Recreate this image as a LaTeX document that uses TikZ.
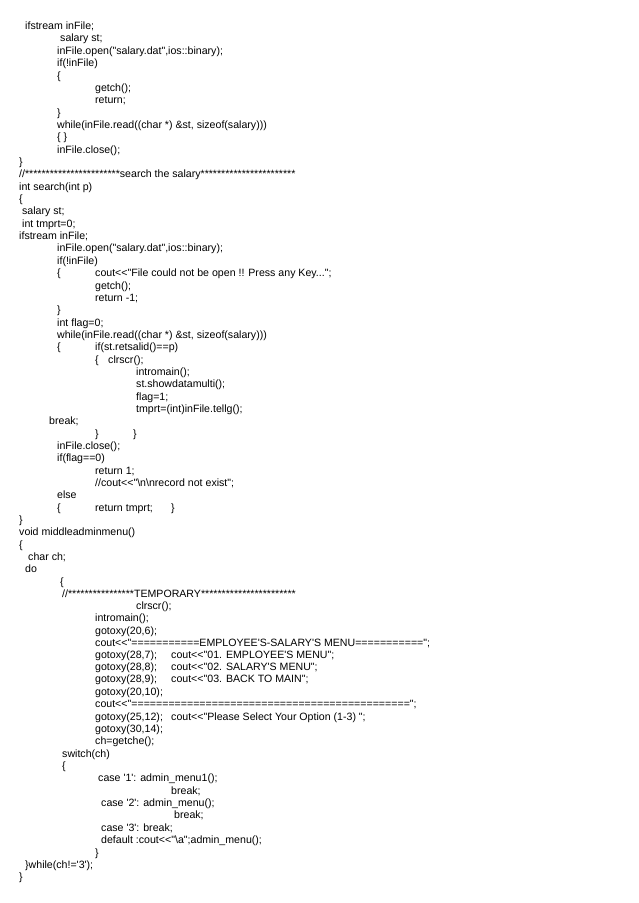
\documentclass[tikz,border=0pt]{standalone}
\usepackage{fontspec}
\newfontfamily\codefont{Liberation Sans}
\begin{document}
\begin{tikzpicture}[x=1pt,y=1pt,
  ln/.style={anchor=base west,inner sep=0pt,font=\codefont\fontsize{10.6}{12}\selectfont}]
\useasboundingbox[fill=white] (0,0) rectangle (638,-903);
\newcommand\LL[4]{\node[ln] (#1) at (#2,{-(#3)-4}) {#4};}
\LL{l1}{25}{25}{ifstream inFile;}
\LL{l2}{60}{37}{salary st;}
\LL{l3}{57}{50}{inFile.open("salary.dat",ios::binary);}
\LL{l4}{57}{62}{if(!inFile)}
\LL{l5}{57}{75}{\{}
\LL{l6}{95}{87}{getch();}
\LL{l7}{95}{99}{return;}
\LL{l8}{57}{112}{\}}
\LL{l9}{57}{124}{while(inFile.read((char *) \&st, sizeof(salary)))}
\LL{l10}{57}{136}{\{ \}}
\LL{l11}{57}{149}{inFile.close();}
\LL{l12}{19}{161}{\}}
\LL{l13}{19}{173}{//***********************search the salary***********************}
\LL{l14}{19}{186}{int search(int p)}
\LL{l15}{19}{198}{\{}
\LL{l16}{22}{210}{salary st;}
\LL{l17}{22}{223}{int tmprt=0;}
\LL{l18}{19}{235}{ifstream inFile;}
\LL{l19}{57}{247}{inFile.open("salary.dat",ios::binary);}
\LL{l20}{57}{260}{if(!inFile)}
\LL{l21}{57}{272}{\{}
\LL{l21b}{95}{272}{cout<{}<"File could not be open !! Press any Key...";}
\LL{l22}{95}{285}{getch();}
\LL{l23}{95}{297}{return -1;}
\LL{l24}{57}{309}{\}}
\LL{l25}{57}{322}{int flag=0;}
\LL{l26}{57}{334}{while(inFile.read((char *) \&st, sizeof(salary)))}
\LL{l27}{57}{346}{\{}
\LL{l27b}{95}{346}{if(st.retsalid()==p)}
\LL{l28}{95}{359}{\{}
\LL{l28b}{108}{359}{clrscr();}
\LL{l29}{136}{371}{intromain();}
\LL{l30}{136}{383}{st.showdatamulti();}
\LL{l31}{136}{396}{flag=1;}
\LL{l32}{136}{408}{tmprt=(int)inFile.tellg();}
\LL{l33}{49}{420}{break;}
\LL{l34}{95}{433}{\}}
\LL{l34b}{133}{433}{\}}
\LL{l35}{57}{445}{inFile.close();}
\LL{l36}{57}{457}{if(flag==0)}
\LL{l37}{95}{470}{return 1;}
\LL{l38}{95}{482}{//cout<{}<"\textbackslash n\textbackslash nrecord not exist";}
\LL{l39}{57}{494}{else}
\LL{l40}{57}{507}{\{}
\LL{l40b}{95}{507}{return tmprt;}
\LL{l40c}{171}{507}{\}}
\LL{l41}{19}{519}{\}}
\LL{l42}{19}{531}{void middleadminmenu()}
\LL{l43}{19}{544}{\{}
\LL{l44}{28}{556}{char ch;}
\LL{l45}{25}{568}{do}
\LL{l46}{60}{581}{\{}
\LL{l47}{62}{593}{//****************TEMPORARY***********************}
\LL{l48}{136}{605}{clrscr();}
\LL{l49}{95}{617}{intromain();}
\LL{l50}{95}{630}{gotoxy(20,6);}
\LL{l51}{95}{642}{cout<{}<"===========EMPLOYEE'S-SALARY'S MENU===========";}
\LL{l52}{95}{654}{gotoxy(28,7);}
\LL{l52b}{171}{654}{cout<{}<"01. EMPLOYEE'S MENU";}
\LL{l53}{95}{666}{gotoxy(28,8);}
\LL{l53b}{171}{666}{cout<{}<"02. SALARY'S MENU";}
\LL{l54}{95}{678}{gotoxy(28,9);}
\LL{l54b}{171}{678}{cout<{}<"03. BACK TO MAIN";}
\LL{l55}{95}{691}{gotoxy(20,10);}
\LL{l56}{95}{703}{cout<{}<"=============================================";}
\LL{l57}{95}{716}{gotoxy(25,12);}
\LL{l57b}{171}{716}{cout<{}<"Please Select Your Option (1-3) ";}
\LL{l58}{95}{728}{gotoxy(30,14);}
\LL{l59}{95}{740}{ch=getche();}
\LL{l60}{62}{753}{switch(ch)}
\LL{l61}{62}{765}{\{}
\LL{l62}{98}{777}{case '1': admin\_menu1();}
\LL{l63}{171}{790}{break;}
\LL{l64}{101}{802}{case '2': admin\_menu();}
\LL{l65}{174}{814}{break;}
\LL{l66}{101}{827}{case '3': break;}
\LL{l67}{101}{839}{default :cout<{}<"\textbackslash a";admin\_menu();}
\LL{l68}{95}{852}{\}}
\LL{l69}{25}{864}{\}while(ch!='3');}
\LL{l70}{19}{876}{\}}
\end{tikzpicture}
\end{document}
